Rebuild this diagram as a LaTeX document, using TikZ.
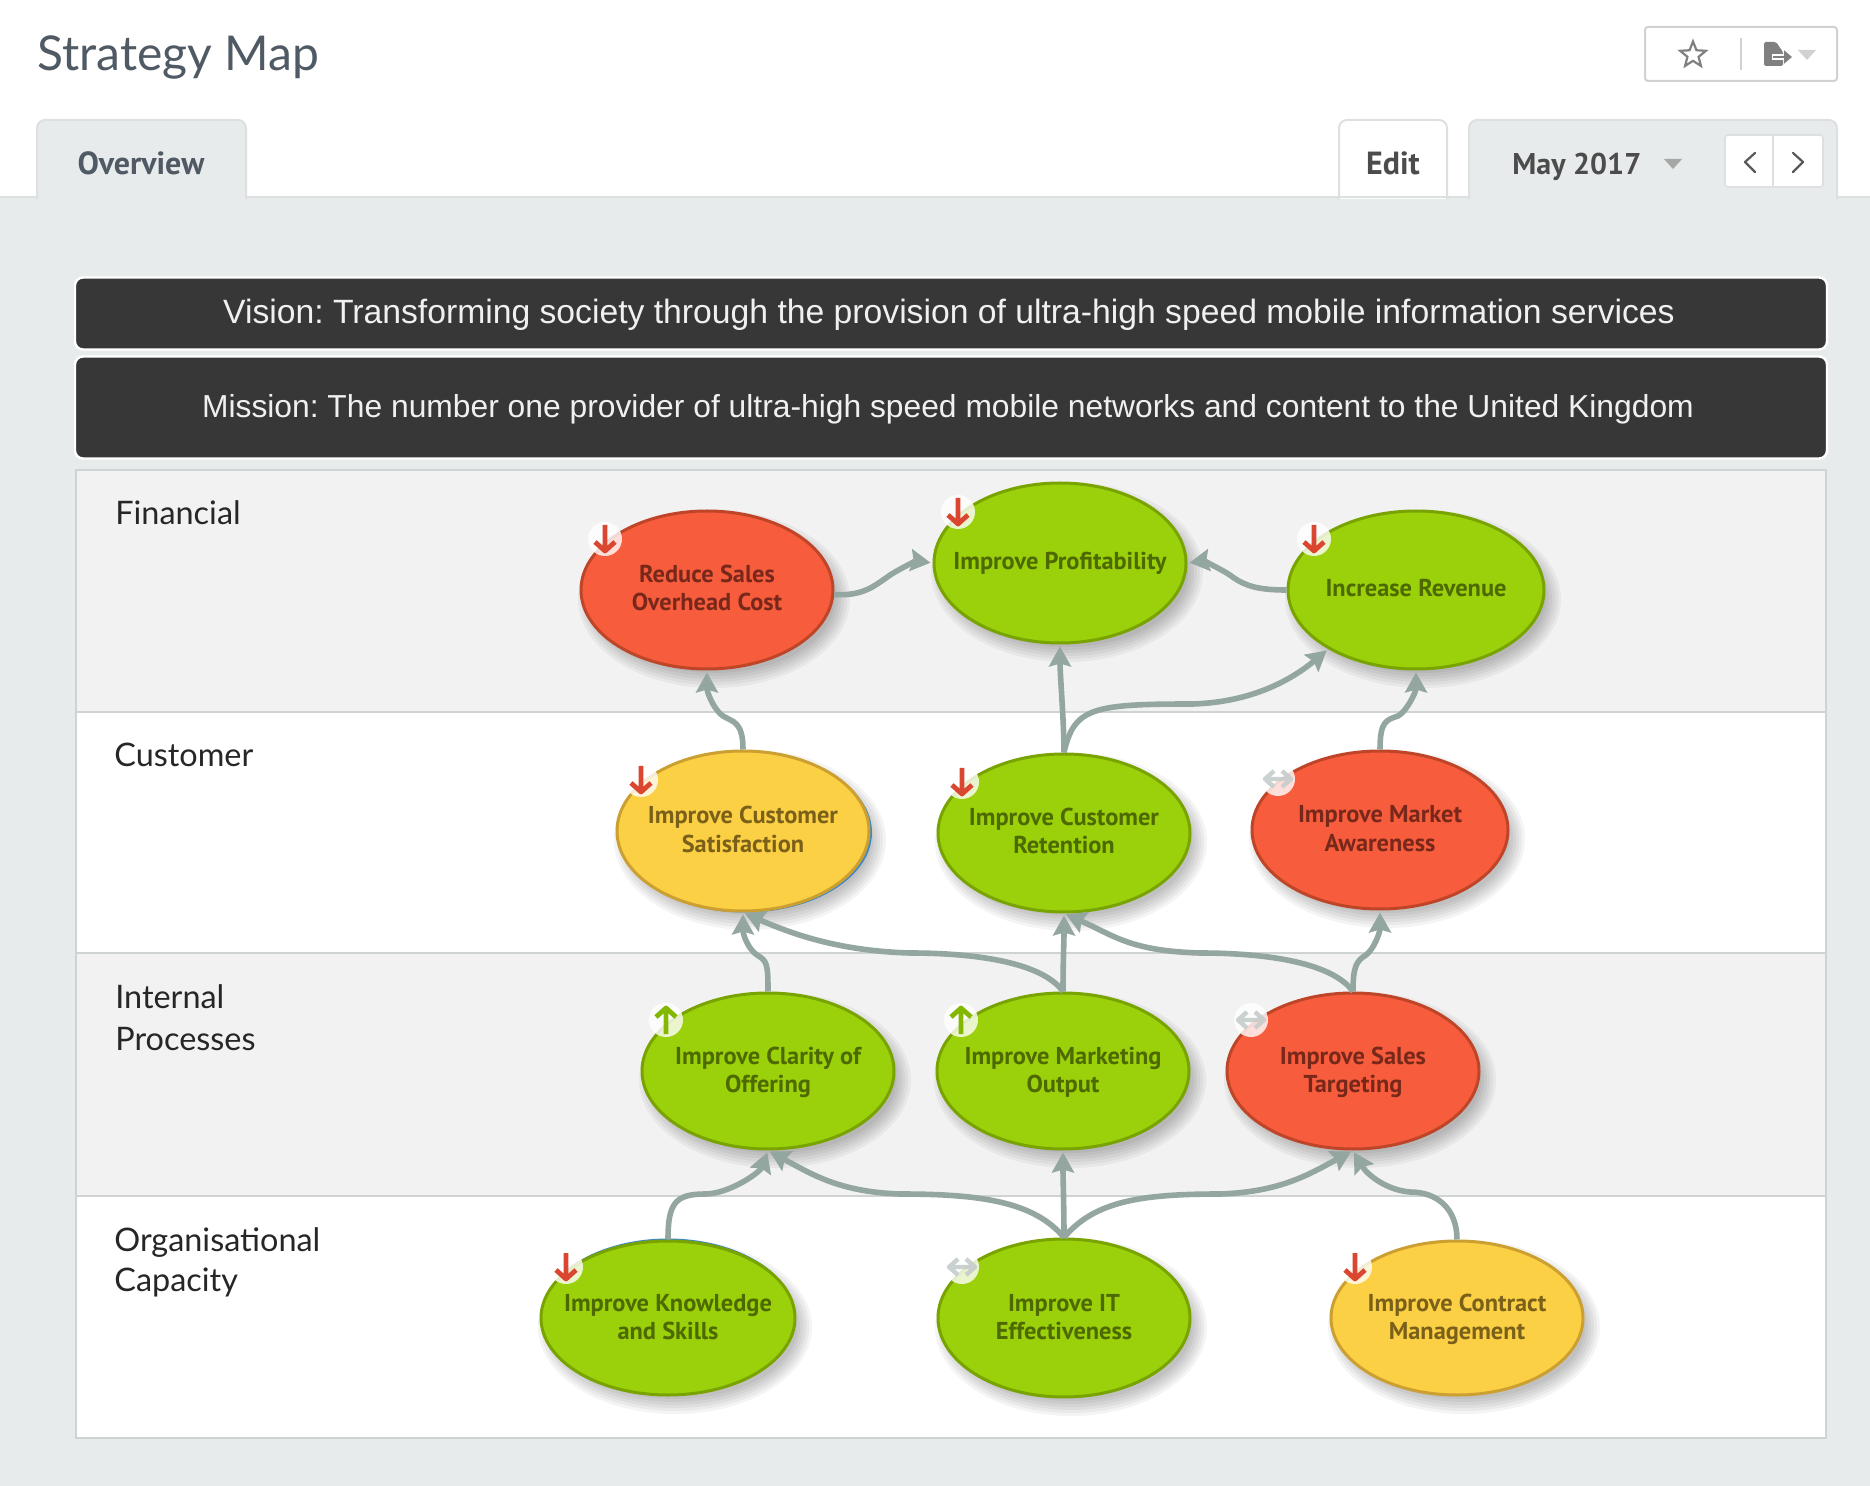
\documentclass[tikz,border=0pt]{standalone}
\usepackage{fontspec}
\usetikzlibrary{arrows.meta,shapes.geometric}
\setmainfont{Liberation Sans}
\frenchspacing
\newfontfamily\uifont{PT Sans}
\newfontfamily\titlefont{Lato}
\definecolor{pagebg}{HTML}{E8EBEC}
\definecolor{tabline}{HTML}{DDE0E1}
\definecolor{uitext}{HTML}{505A64}
\definecolor{darkbar}{HTML}{373737}
\definecolor{bandline}{HTML}{D0D3D3}
\definecolor{bandgrey}{HTML}{F2F2F2}
\definecolor{greenfill}{HTML}{9AD10A}
\definecolor{greenline}{HTML}{79A300}
\definecolor{greentext}{HTML}{4D6900}
\definecolor{redfill}{HTML}{F75C3C}
\definecolor{redline}{HTML}{BF4529}
\definecolor{redtext}{HTML}{78281A}
\definecolor{yellowfill}{HTML}{FCD045}
\definecolor{yellowline}{HTML}{CCA030}
\definecolor{yellowtext}{HTML}{7A6018}
\definecolor{connc}{HTML}{94A6A0}
\definecolor{downc}{HTML}{DA4630}
\definecolor{upc}{HTML}{84B800}
\definecolor{flatc}{HTML}{C6CDCB}
\definecolor{blueedge}{HTML}{3F88C5}
\tikzset{
  x=0.5pt,y=-0.5pt,
  bubble/.style={ellipse,inner sep=0pt,line width=1.5pt,font=\uifont\bfseries\fontsize{12.2}{14}\selectfont},
  greenb/.style={bubble,draw=greenline,fill=greenfill,text=greentext},
  redb/.style={bubble,draw=redline,fill=redfill,text=redtext},
  yellowb/.style={bubble,draw=yellowline,fill=yellowfill,text=yellowtext},
  conn/.style={draw=connc,line width=2.8pt,-{Stealth[length=10pt,width=11pt,inset=1.5pt]},shorten >=1pt},
  band/.style={draw=bandline,line width=1.2pt},
  darkb/.style={fill=darkbar,draw=white,line width=1.2pt,rounded corners=4pt},
  bartext/.style={text=white!94!black,inner sep=0pt},
  bandlabel/.style={anchor=west,align=left,inner sep=0pt,text=black!85,font=\titlefont\fontsize{16.2}{20}\selectfont},
  tabtext/.style={inner sep=0pt,font=\uifont\bfseries\fontsize{16}{18}\selectfont},
  badge/.style={circle,fill=white,fill opacity=0.8,minimum size=17pt,inner sep=0pt},
  icon/.style={line width=1.1pt,line cap=round,line join=round},
}
\newcommand{\edgehook}{}
% shadow + node; the text box takes no room, so the size is the one given
\newcommand{\bub}[7]{%
  \foreach \r in {16,13,10,7,4,1}{\fill[black,opacity=0.045] (#3+7,#4+9) ellipse [x radius=#5+\r-6,y radius=#6+\r-6];}
  \edgehook
  \node[#2,minimum width=#5 pt,minimum height=#6 pt] (#1) at (#3,#4) {\makebox[0pt]{\raisebox{-3.7pt}[0pt][0pt]{\begin{tabular}{@{}c@{}}#7\end{tabular}}}};}
% badges
\newcommand{\bdgdown}[2]{\node[badge] (#1) at ([shift={(-102,-51)}]#2.center) {};
  \begin{scope}[shift={(#1.center)}]\draw[downc,line width=2.4pt,line join=round] (0,-14)--(0,11) (-10,3)--(0,12)--(10,3);\end{scope}}
\newcommand{\bdgup}[2]{\node[badge] (#1) at ([shift={(-102,-51)}]#2.center) {};
  \begin{scope}[shift={(#1.center)}]\draw[upc,line width=2.4pt,line join=round] (0,14)--(0,-11) (-10,-3)--(0,-12)--(10,-3);\end{scope}}
\newcommand{\bdgflat}[2]{\node[badge] (#1) at ([shift={(-102,-51)}]#2.center) {};
  \begin{scope}[shift={(#1.center)}]\draw[flatc,opacity=0.9,line width=2.2pt,line join=round] (-12,0)--(12,0) (-4,-8)--(-13,0)--(-4,8) (4,-8)--(13,0)--(4,8);\end{scope}}
\begin{document}
\begin{tikzpicture}
\useasboundingbox (0,0) rectangle (1870,1486);
\fill[white] (0,0) rectangle (1870,1486);
\fill[pagebg] (0,197) rectangle (1870,1486);
\draw[tabline,line width=1pt] (0,197) -- (1870,197);
% tabs
\path[fill=pagebg,draw=tabline,line width=1pt,rounded corners=4pt] (37,204) -- (37,120) -- (246,120) -- (246,204);
\path[fill=white,draw=tabline,line width=1pt,rounded corners=4pt] (1339,204) -- (1339,120) -- (1447,120) -- (1447,204);
\path[fill=pagebg,draw=tabline,line width=1pt,rounded corners=4pt] (1469,204) -- (1469,120) -- (1837,120) -- (1837,204);
\fill[pagebg] (0,199) rectangle (1870,210);
\draw[tabline,line width=1pt] (1339,197) -- (1447,197);
\node[anchor=base west,inner sep=0pt,text=uitext,font=\titlefont\fontsize{24}{30}\selectfont] (title) at (37,71) {Strategy Map};
\node[tabtext,anchor=base,text=uitext] (tabov) at (141,175) {Overview};
\node[tabtext,anchor=base,text=black!70] (tabed) at (1393,175) {Edit};
\node[tabtext,anchor=base west,text=black!70,font=\uifont\bfseries\fontsize{15}{18}\selectfont] (tabmay) at (1512,175) {May 2017};
\fill[black!35] (1664,159) -- (1682,159) -- (1673,169) -- cycle;
% nav buttons
\draw[fill=white,draw=tabline,line width=0.8pt,rounded corners=1.5pt] (1725,135) rectangle (1823,187);
\draw[tabline,line width=0.8pt] (1773,135) -- (1773,187);
\draw[icon,black!65] (1755,153) -- (1745,162) -- (1755,172);
\draw[icon,black!65] (1793,153) -- (1803,162) -- (1793,172);
% top right box
\draw[fill=white,draw=black!18,line width=1pt,rounded corners=1.5pt] (1645,27) rectangle (1837,81);
\draw[black!18,line width=1pt] (1741,38) -- (1741,70);
\node[star,star points=5,star point ratio=2.3,draw=black!50,line width=1.1pt,fill=white,minimum size=13.5pt,inner sep=0pt] (starI) at (1693,55) {};
\fill[black!50,rounded corners=0.8pt] (1764,42) -- (1776,42) -- (1783,52) -- (1783,66) -- (1764,66) -- cycle;
\draw[white,line width=3pt] (1772,57) -- (1786,57);
\draw[black!50,line width=1.4pt,-{Triangle[length=4pt,width=6.5pt]}] (1773,57) -- (1792,57);
\fill[black!18] (1798,50) -- (1816,50) -- (1807,60) -- cycle;
% vision, mission
\draw[darkb] (75,277.5) rectangle (1827,349.5);
\node[bartext,font=\fontsize{16.85}{20}\selectfont] (vision) at (949,315) {Vision: Transforming society through the provision of ultra-high speed mobile information services};
\draw[darkb] (75,356.5) rectangle (1827,458.5);
\node[bartext,font=\fontsize{15.9}{20}\selectfont] (mission) at (948,409) {Mission: The number one provider of ultra-high speed mobile networks and content to the United Kingdom};
% bands
\draw[band,fill=bandgrey] (76,470) rectangle (1826,712);
\draw[band,fill=white] (76,712) rectangle (1826,953);
\draw[band,fill=bandgrey] (76,953) rectangle (1826,1196);
\draw[band,fill=white] (76,1196) rectangle (1826,1438);
\node[bandlabel] (lfin) at (115,513) {Financial};
\node[bandlabel] (lcus) at (114,755) {Customer};
\node[bandlabel,font=\titlefont\fontsize{16.2}{21}\selectfont] (lint) at (115,1018) {Internal\\Processes};
\node[bandlabel] (lorg) at (114,1262) {Organisational\\Capacity};
% ellipses
\bub{rs}{redb}{707}{590}{126}{79}{Reduce Sales\\Overhead Cost}
\bub{prof}{greenb}{1060}{563}{126}{80}{Improve Profitability}
\bub{rev}{greenb}{1416}{590}{128}{79}{Increase Revenue}
\renewcommand{\edgehook}{\fill[blueedge] (745,832.5) ellipse [x radius=127,y radius=80];}
\bub{cs}{yellowb}{743}{831}{126}{80}{Improve Customer\\Satisfaction}
\renewcommand{\edgehook}{}
\bub{ret}{greenb}{1064}{833}{126}{79}{Improve Customer\\Retention}
\bub{ma}{redb}{1380}{830}{128}{79}{Improve Market\\Awareness}
\bub{cl}{greenb}{768}{1071}{126}{78}{Improve Clarity of\\Offering}
\bub{mo}{greenb}{1063}{1071}{126}{78}{Improve Marketing\\Output}
\bub{st}{redb}{1353}{1071}{126}{78}{Improve Sales\\Targeting}
\renewcommand{\edgehook}{\fill[blueedge] (668,1317) ellipse [x radius=127,y radius=78.5];}
\bub{ks}{greenb}{668}{1318}{127}{77}{Improve Knowledge\\and Skills}
\renewcommand{\edgehook}{}
\bub{it}{greenb}{1064}{1318}{126}{79}{Improve IT\\Effectiveness}
\bub{cm}{yellowb}{1457}{1318}{126}{77}{Improve Contract\\Management}
% connectors
\draw[conn] (rs.-2) .. controls +(28,2) and +(-12,8) .. (886,578) .. controls +(10,-8) and +(-15,-2) .. (prof.west);
\draw[conn] (rev.west) .. controls +(-28,0) and +(12,8) .. (1234,578) .. controls +(-10,-8) and +(15,-2) .. (prof.east);
\draw[conn] (cs.north) .. controls +(0,-28) and +(10,6) .. (723,716) .. controls +(-9,-6) and +(0,22) .. (rs.south);
\draw[conn] (ret.north) .. controls +(0,-30) and +(0,30) .. (prof.south);
\draw[conn] (ret.north) .. controls +(10,-45) and +(-100,0) .. (1193,704) .. controls +(60,-2) and +(-36,30) .. (rev.-146);
\draw[conn] (ma.north) .. controls +(0,-28) and +(-12,4) .. (1398,716) .. controls +(8,-4) and +(0,22) .. (rev.south);
\draw[conn] (cl.north) .. controls +(0,-28) and +(10,6) .. (757,955) .. controls +(-9,-6) and +(0,22) .. (cs.south);
\draw[conn] (mo.north) .. controls +(-20,-28) and +(70,0) .. (910,953) .. controls +(-70,-2) and +(50,22) .. (cs.south);
\draw[conn] (mo.north) .. controls +(0,-30) and +(0,30) .. (ret.south);
\draw[conn] (st.north) .. controls +(-20,-28) and +(70,0) .. (1200,953) .. controls +(-70,-2) and +(50,22) .. (ret.south);
\draw[conn] (st.north) .. controls +(0,-24) and +(-10,6) .. (1366,955) .. controls +(8,-6) and +(0,22) .. (ma.south);
\draw[conn] (ks.north) .. controls +(0,-36) and +(-30,0) .. (705,1194) .. controls +(24,0) and +(-8,22) .. (cl.south);
\draw[conn] (it.north) .. controls +(-30,-36) and +(80,0) .. (900,1194) .. controls +(-60,-2) and +(44,24) .. (cl.south);
\draw[conn] (it.north) .. controls +(0,-30) and +(0,30) .. (mo.south);
\draw[conn] (it.north) .. controls +(30,-36) and +(-80,0) .. (1220,1194) .. controls +(60,-2) and +(-44,24) .. (st.south);
\draw[conn] (cm.north) .. controls +(0,-30) and +(28,0) .. (1410,1192) .. controls +(-24,-2) and +(14,24) .. (st.south);
% badges
\bdgdown{b1}{rs}
\bdgdown{b2}{prof}
\bdgdown{b3}{rev}
\bdgdown{b4}{cs}
\bdgdown{b5}{ret}
\bdgflat{b6}{ma}
\bdgup{b7}{cl}
\bdgup{b8}{mo}
\bdgflat{b9}{st}
\bdgdown{b10}{ks}
\bdgflat{b11}{it}
\bdgdown{b12}{cm}
\end{tikzpicture}
\end{document}
